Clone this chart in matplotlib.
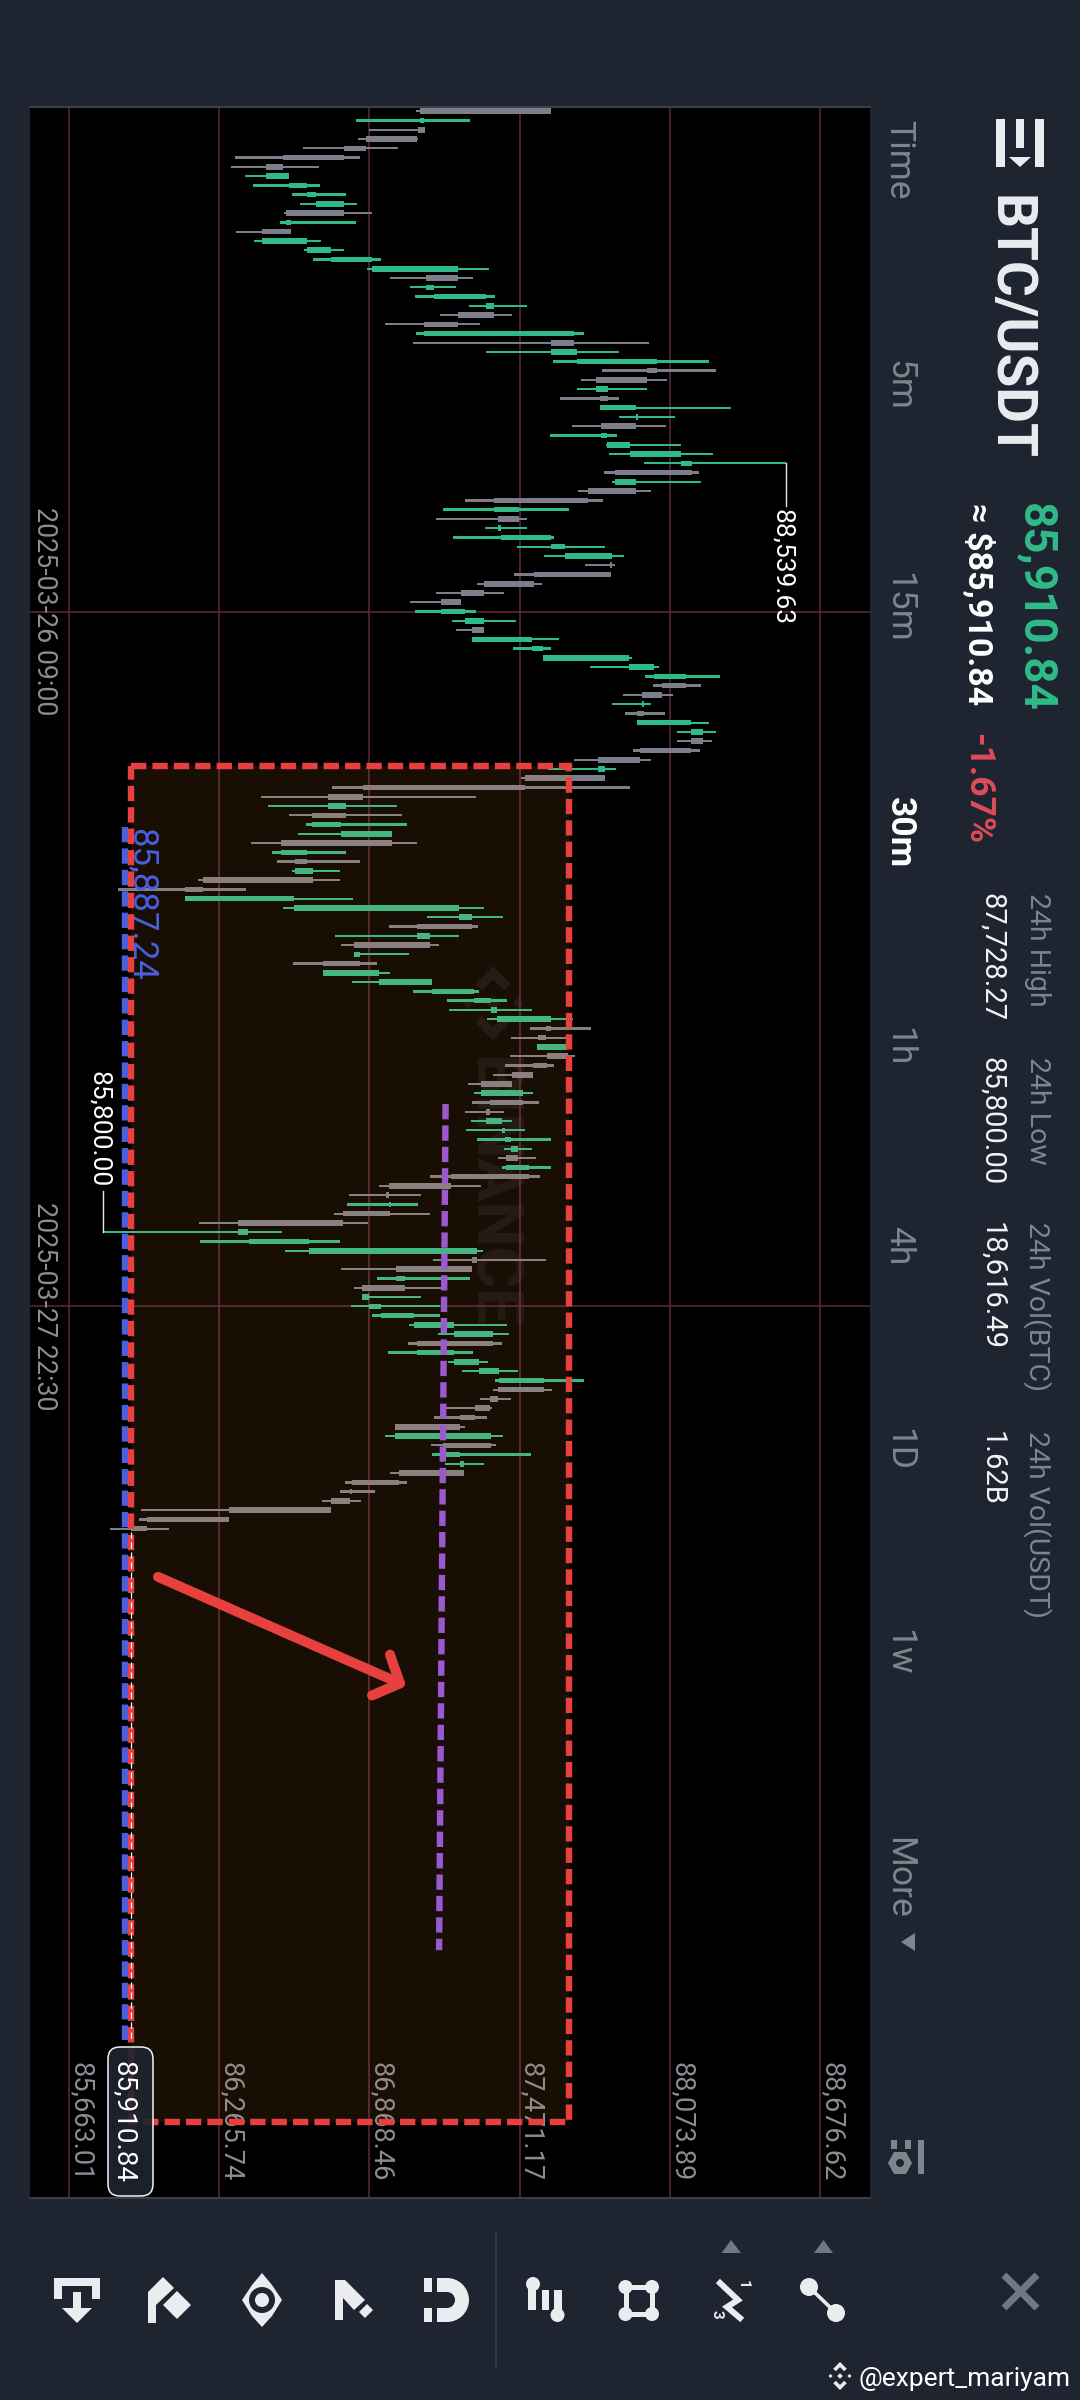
import matplotlib
matplotlib.use("Agg")
import matplotlib.pyplot as plt
from matplotlib.patches import Rectangle, Polygon, Circle, Wedge, FancyBboxPatch

# candles top to bottom, 30m each, the whole screenshot is turned by 90 degrees
wick_low = [
    87055, 86814, 86868, 86821, 86602, 86331, 86312, 86370, 86401, 86557,
    86588, 86526, 86510, 86333, 86407, 86607, 86642, 86860, 86950, 87033,
    87051, 87269, 87150, 86930, 87055, 87045, 87335, 87605, 87802, 87716,
    87701, 87634, 87794, 87870, 87681, 87592, 87817, 87831, 87969, 87809,
    87841, 87704, 87253, 87162, 87135, 87331, 87203, 87459, 87568, 87732,
    87448, 87302, 87135, 87031, 87051, 87201, 87216, 87282, 87444, 87564,
    87755, 87975, 88006, 87887, 87841, 87893, 87942, 88103, 88103, 87926,
    87689, 87586, 87475, 86719, 86434, 86463, 86547, 86612, 86580, 86392,
    86477, 86496, 86556, 86182, 85861, 86129, 86520, 87099, 86945, 86729,
    86754, 86808, 86562, 86682, 86797, 87044, 87180, 87188, 87339, 87513,
    87436, 87542, 87432, 87412, 87363, 87264, 87288, 87280, 87250, 87275,
    87256, 87299, 87408, 87386, 87400, 87110, 86905, 86788, 86777, 86726,
    86184, 85800, 86188, 86529, 87125, 86753, 86900, 86806, 86837, 86796,
    86877, 87028, 87142, 87024, 86943, 87185, 87240, 87372, 87363, 87312,
    87165, 87129, 86971, 86931, 87117, 87121, 87172, 86951, 86769, 86750,
    86679, 85952, 85942, 85827,
]
body_low = [
    87070, 87070, 87063, 86856, 86767, 86522, 86452, 86452, 86547, 86617,
    86656, 86535, 86535, 86438, 86438, 86619, 86714, 86880, 87094, 87094,
    87129, 87337, 87222, 87086, 87086, 87596, 87596, 87701, 87981, 87778,
    87778, 87794, 87794, 87938, 87798, 87798, 87823, 87915, 88117, 87852,
    87852, 87747, 87370, 87370, 87384, 87384, 87395, 87599, 87654, 87833,
    87527, 87327, 87236, 87154, 87154, 87253, 87282, 87282, 87522, 87564,
    87911, 88010, 88043, 87963, 87963, 87942, 87942, 88158, 88158, 87955,
    87786, 87787, 87494, 86841, 86701, 86701, 86639, 86639, 86753, 86515,
    86515, 86570, 86570, 86199, 86129, 86129, 86567, 87229, 87059, 87059,
    86808, 86808, 86682, 86682, 86908, 87121, 87287, 87356, 87379, 87578,
    87546, 87542, 87580, 87523, 87440, 87316, 87316, 87352, 87335, 87335,
    87400, 87414, 87435, 87416, 87416, 87196, 86947, 86935, 86947, 86761,
    86342, 86342, 86384, 86627, 87280, 86975, 86975, 86837, 86837, 86868,
    86913, 87048, 87208, 87060, 87060, 87206, 87308, 87388, 87383, 87352,
    87292, 87232, 86971, 86971, 87165, 87172, 87232, 86988, 86800, 86790,
    86713, 86306, 85974, 85910,
]
body_high = [
    87599, 87088, 87090, 87059, 86856, 86767, 86522, 86547, 86617, 86656,
    86765, 86765, 86553, 86553, 86619, 86714, 86880, 87222, 87222, 87129,
    87337, 87370, 87370, 87222, 87689, 87689, 87701, 88021, 88021, 87981,
    87825, 87825, 87938, 87946, 87938, 87821, 87915, 88117, 88162, 88163,
    87938, 87938, 87747, 87467, 87467, 87397, 87599, 87654, 87841, 87841,
    87837, 87527, 87327, 87236, 87253, 87327, 87327, 87522, 87564, 87911,
    88010, 88140, 88140, 88043, 87971, 87971, 88158, 88208, 88208, 88158,
    87955, 87814, 87814, 87494, 86841, 86774, 86774, 86753, 86958, 86958,
    86616, 86616, 86643, 86643, 86199, 86567, 87229, 87280, 87280, 87111,
    87111, 86830, 86830, 86908, 87121, 87287, 87356, 87379, 87597, 87597,
    87578, 87660, 87666, 87580, 87523, 87440, 87483, 87483, 87352, 87400,
    87414, 87435, 87465, 87465, 87510, 87510, 87196, 86947, 86955, 86952,
    86761, 86382, 86627, 87299, 87299, 87280, 87012, 87012, 86868, 86913,
    87048, 87208, 87365, 87365, 87206, 87308, 87388, 87569, 87569, 87386,
    87352, 87292, 87233, 87355, 87355, 87232, 87248, 87248, 86988, 86798,
    86789, 86713, 86306, 85974,
]
wick_high = [
    87599, 87273, 87090, 87063, 86985, 86831, 86666, 86547, 86672, 86773,
    86819, 86880, 86814, 86553, 86674, 86765, 86913, 87350, 87286, 87214,
    87374, 87500, 87442, 87313, 87728, 87992, 87868, 88230, 88259, 88062,
    87981, 87868, 88321, 88093, 88060, 87860, 88119, 88249, 88540, 88191,
    88198, 87998, 87806, 87671, 87502, 87500, 87611, 87813, 87891, 87854,
    87837, 87560, 87407, 87236, 87296, 87457, 87327, 87631, 87597, 87924,
    88031, 88274, 88200, 88088, 88000, 88056, 88230, 88259, 88243, 88193,
    88000, 87858, 87814, 87914, 87295, 86978, 86998, 87018, 86958, 87058,
    86774, 86829, 86750, 86750, 86373, 86801, 87329, 87404, 87303, 87229,
    87147, 87028, 86900, 86952, 87121, 87308, 87420, 87519, 87687, 87756,
    87666, 87660, 87692, 87608, 87523, 87440, 87526, 87549, 87408, 87440,
    87494, 87598, 87521, 87538, 87598, 87551, 87317, 87074, 87062, 87110,
    86861, 86519, 86750, 87323, 87575, 87280, 87272, 87162, 87075, 87151,
    87151, 87420, 87430, 87399, 87283, 87345, 87465, 87729, 87601, 87435,
    87361, 87340, 87252, 87403, 87375, 87517, 87328, 87248, 87018, 86892,
    86833, 86713, 86306, 86065,
]
green_candles = [
    1, 7, 8, 9, 10, 12, 14, 15, 16, 17, 19, 20, 21, 24, 26, 27, 30, 32, 33, 35,
    36, 37, 38, 40, 43, 45, 46, 47, 48, 54, 55, 57, 58, 59, 60, 61, 64, 66, 67,
    71, 75, 77, 78, 80, 82, 85, 86, 87, 89, 91, 93, 94, 95, 96, 97, 98, 101,
    106, 109, 110, 111, 112, 114, 118, 121, 122, 123, 126, 128, 129, 130, 131,
    132, 134, 135, 136, 137, 143, 145, 146,
]

price_ticks = [85663.01, 86265.74, 86868.46, 87471.17, 88073.89, 88676.62]
price_labels = ["85,663.01", "86,265.74", "86,868.46", "87,471.17", "88,073.89", "88,676.62"]
time_ticks = [54, 129]
time_labels = ["2025-03-26 09:00", "2025-03-27 22:30"]

last_price = 85910.84
blue_level = 85887.24
high_mark = (88540, 38)
low_mark = (85800, 121)

intervals = ["Time", "5m", "15m", "30m", "1h", "4h", "1D", "1w", "More"]
interval_tops = [120, 360, 572, 797, 1027, 1226, 1428, 1629, 1837]
stat_names = ["24h High", "24h Low", "24h Vol(BTC)", "24h Vol(USDT)"]
stat_values = ["87,728.27", "85,800.00", "18,616.49", "1.62B"]
stat_tops = [893, 1057, 1222, 1431]

BG = "#1e2530"
GREEN = "#2fbb88"
GRAY = "#7c7f89"
GRID = "#5c2a3e"
RED = "#e8403f"
BLUE = "#4a5fe0"
PURPLE = "#9b59d0"
ICON = "#eaecef"
MUTED = "#7f858f"

plt.rcParams["font.family"] = ["Roboto", "DejaVu Sans"]

fig = plt.figure(figsize=(10.8, 24), dpi=100, facecolor=BG)


def px_axes(zorder):
    a = fig.add_axes([0, 0, 1, 1], zorder=zorder)
    a.set_xlim(0, 1080)
    a.set_ylim(2400, 0)
    a.axis("off")
    return a


def down_text(a, x, y, s, size, color, weight="normal", va="top"):
    a.text(x, y, s, rotation=270, ha="center", va=va, fontsize=size, color=color, fontweight=weight)


def poly(a, pts, color=ICON):
    a.add_patch(Polygon(pts, closed=True, facecolor=color, edgecolor="none"))


def rect(a, x0, y0, x1, y1, color=ICON):
    a.add_patch(Rectangle((x0, y0), x1 - x0, y1 - y0, facecolor=color, edgecolor="none"))


def dot(a, x, y, r, color=ICON):
    a.add_patch(Circle((x, y), r, facecolor=color, edgecolor="none"))


def binance_mark(a, cx, cy, s, color):
    for dx, dy, r in [(0, 0, 0.2), (-0.68, 0, 0.15), (0.68, 0, 0.15)]:
        poly(a, [(cx + dx * s, cy - r * s), (cx + dx * s + r * s, cy), (cx + dx * s, cy + r * s),
                 (cx + dx * s - r * s, cy)], color)
    for sign in (-1, 1):
        poly(a, [(cx, cy + sign * s), (cx + 0.48 * s, cy + sign * 0.52 * s), (cx + 0.3 * s, cy + sign * 0.34 * s),
                 (cx, cy + sign * 0.64 * s), (cx - 0.3 * s, cy + sign * 0.34 * s),
                 (cx - 0.48 * s, cy + sign * 0.52 * s)], color)


# --- app chrome and black panel, under the chart ---
bg = px_axes(0)
rect(bg, 30, 107, 870, 2198, "#000000")
bg.plot([30, 870], [107, 107], color="#3b414b", lw=1.4)
bg.plot([30, 870], [2198, 2198], color="#3b414b", lw=1.4)

# faint watermark
binance_mark(bg, 493, 1003, 37, "#0e1013")
down_text(bg, 490, 1057, "BINANCE", 46, "#0e1013", weight="bold")

# header logo
rect(bg, 996, 119, 1005, 167)
rect(bg, 1016, 119, 1024, 148)
rect(bg, 1035, 119, 1044, 167)
poly(bg, [(1009, 157), (1031, 157), (1020, 167)])

down_text(bg, 1009, 195, "BTC/USDT", 39.5, ICON, weight="bold")
down_text(bg, 1036, 503, "85,910.84", 33, GREEN, weight="bold")
down_text(bg, 978, 503, "≈ $85,910.84", 24.5, "#ffffff", weight="bold")
down_text(bg, 978, 733, "-1.67%", 25.5, "#e04b5a", weight="bold")

for name, value, top in zip(stat_names, stat_values, stat_tops):
    down_text(bg, 1037, top, name, 20.5, MUTED)
    down_text(bg, 992, top, value, 21, "#f2f3f5")

for label, top in zip(intervals, interval_tops):
    active = label == "30m"
    down_text(bg, 899, top, label, 25.5, "#ffffff" if active else MUTED, weight="bold" if active else "normal")
poly(bg, [(915, 1933), (915, 1951), (901, 1942)], MUTED)

# settings icon at the end of the interval row
rect(bg, 891, 2140, 897, 2149, MUTED)
rect(bg, 905, 2140, 911, 2149, MUTED)
poly(bg, [(888, 2163), (894, 2152), (906, 2152), (912, 2163), (906, 2174), (894, 2174)], MUTED)
dot(bg, 900, 2163, 4, BG)
rect(bg, 918, 2140, 924, 2174, MUTED)

# drawing tools
poly(bg, [(54, 2278), (100, 2278), (100, 2299), (92, 2299), (92, 2286), (62, 2286), (62, 2299), (54, 2299)])
rect(bg, 73, 2292, 81, 2308)
poly(bg, [(62, 2308), (92, 2308), (77, 2323)])
poly(bg, [(148, 2292), (163, 2277), (174, 2288), (156, 2305), (156, 2323), (148, 2323)])
poly(bg, [(177, 2291), (191, 2305), (177, 2319), (163, 2305)])
poly(bg, [(262, 2273), (272, 2285), (282, 2300), (272, 2316), (262, 2327), (252, 2316), (242, 2300), (252, 2285)])
dot(bg, 262, 2300, 13, BG)
dot(bg, 262, 2300, 7)
poly(bg, [(335, 2280), (345, 2280), (365, 2300), (354, 2310), (343, 2298), (343, 2320), (335, 2320)])
poly(bg, [(367, 2304), (373, 2310), (365, 2318), (359, 2312)])
rect(bg, 424, 2278, 432, 2292)
rect(bg, 424, 2308, 432, 2322)
rect(bg, 437, 2278, 447, 2292)
rect(bg, 437, 2308, 447, 2322)
bg.add_patch(Wedge((447, 2300), 22, -90, 90, width=14, facecolor=ICON, edgecolor="none"))

bg.plot([496, 496], [2233, 2367], color="#363d49", lw=1.2)

dot(bg, 533, 2284, 7)
rect(bg, 528, 2284, 536, 2310)
rect(bg, 541.5, 2290, 549, 2310)
rect(bg, 554, 2290, 562, 2315)
dot(bg, 557.5, 2315, 7)
bg.add_patch(Rectangle((625.5, 2287), 26.5, 27, facecolor="none", edgecolor=ICON, lw=3.6))
for cx in (625.5, 652):
    for cy in (2287, 2314):
        dot(bg, cx, cy, 7)
bg.plot([720, 738, 727, 740], [2283, 2300, 2307, 2318], color=ICON, lw=4.3, solid_joinstyle="miter")
down_text(bg, 743, 2284, "1", 11, ICON, weight="bold", va="center")
down_text(bg, 717, 2314, "3", 11, ICON, weight="bold", va="center")
bg.plot([809, 836], [2287, 2313], color=ICON, lw=2.6)
dot(bg, 809, 2287, 9)
dot(bg, 836, 2313, 9)
poly(bg, [(731, 2240), (721.5, 2253), (741, 2253)], "#717784")
poly(bg, [(823.5, 2240), (814, 2253), (833, 2253)], "#717784")
bg.plot([1004, 1037], [2275, 2308], color="#717784", lw=5, solid_capstyle="butt")
bg.plot([1037, 1004], [2275, 2308], color="#717784", lw=5, solid_capstyle="butt")

binance_mark(bg, 840, 2376, 14, ICON)
bg.text(859, 2379, "@expert_mariyam", fontsize=19, color="#ffffff", ha="left", va="center")

# --- chart, price runs left to right and time runs down ---
ax = fig.add_axes([30 / 1080, (2400 - 2198) / 2400, 840 / 1080, 2091 / 2400], zorder=1)
ax.patch.set_alpha(0)
ax.set_xlim(85506.5, 88877)
ax.set_ylim(225.25, -0.46)
ax.axis("off")

for p in price_ticks:
    ax.axvline(p, color=GRID, lw=1.1, zorder=1)
for t in time_ticks:
    ax.axhline(t, color=GRID, lw=1.1, zorder=1)

rows = range(len(wick_low))
colors = [GREEN if i in green_candles else GRAY for i in rows]
ax.barh(rows, [h - l for h, l in zip(wick_high, wick_low)], left=wick_low, height=0.25, color=colors, zorder=3)
ax.barh(rows, [h - l for h, l in zip(body_high, body_low)], left=body_low, height=0.6, color=colors, zorder=3)

for p, label in zip(price_ticks, price_labels):
    ax.annotate(label, xy=(p, 0), xycoords=("data", "axes fraction"), xytext=(8.5, 12), textcoords="offset points",
                rotation=270, ha="center", va="bottom", fontsize=19.5, color="#8a8e95", zorder=2)
for t, label in zip(time_ticks, time_labels):
    ax.annotate(label, xy=(0, t), xycoords=("axes fraction", "data"), xytext=(10.5, 0), textcoords="offset points",
                rotation=270, ha="center", va="center", fontsize=19.3, color="#8a8e95", zorder=2)

# high / low markers
ax.plot([high_mark[0]] * 2, [high_mark[1], 42.6], color="#e8e8e8", lw=1, zorder=3)
ax.text(high_mark[0] - 16, 42.9, "88,539.63", rotation=270, ha="center", va="top", fontsize=19, color="#ffffff", zorder=7)
ax.plot([low_mark[0]] * 2, [low_mark[1], 116.5], color="#e8e8e8", lw=1, zorder=3)
ax.text(low_mark[0] - 16, 116.2, "85,800.00", rotation=270, ha="center", va="bottom", fontsize=19, color="#ffffff", zorder=7)

# user drawings
dash = (0, (2.4, 0.95))
ax.add_patch(Rectangle((85912, 70.68), 87670 - 85912, 217.1 - 70.68, facecolor="#ff8a30", alpha=0.1,
                       edgecolor="none", zorder=4))
ax.plot([blue_level] * 2, [77.3, 208.2], color=BLUE, lw=4.6, linestyle=dash, zorder=5)
ax.add_patch(Rectangle((85912, 70.68), 87670 - 85912, 217.1 - 70.68, facecolor="none", edgecolor=RED, lw=4.6,
                       linestyle=dash, zorder=6))
ax.plot([87174, 87148], [107.16, 198.5], color=PURPLE, lw=4.6, linestyle=dash, zorder=5)
ax.plot([last_price] * 2, [153.4, 208.2], color="#ffffff", lw=0.9, linestyle=(0, (5, 3)), zorder=7)
ax.annotate("85,887.24", xy=(blue_level, 77.4), xytext=(12, 0), textcoords="offset points", rotation=270,
            ha="center", va="top", fontsize=25, color=BLUE, zorder=7)
ax.plot([86020, 86991], [158.2, 169.7], color=RED, lw=7.2, solid_capstyle="round", zorder=7)
ax.plot([86951, 86991, 86879], [166.6, 169.7, 171], color=RED, lw=7.2, solid_capstyle="round",
        solid_joinstyle="round", zorder=7)

# last price pill on top of everything
top = px_axes(2)
top.add_patch(FancyBboxPatch((108 + 12, 2047 + 12), 45 - 24, 149 - 24, boxstyle="round,pad=12", facecolor="#1e2530",
                             alpha=0.9, edgecolor="none"))
top.add_patch(FancyBboxPatch((108 + 12, 2047 + 12), 45 - 24, 149 - 24, boxstyle="round,pad=12", facecolor="none",
                             edgecolor="#f2f3f5", lw=1.1))
top.text(124, 2122, "85,910.84", rotation=270, ha="center", va="center", fontsize=20, color="#ffffff")

fig.savefig("out.png", dpi=100, facecolor=BG)
